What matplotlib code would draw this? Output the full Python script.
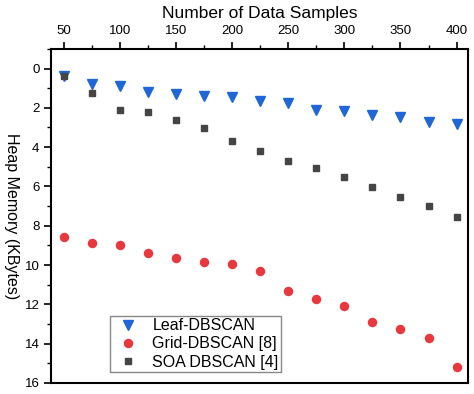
import matplotlib.pyplot as plt
from matplotlib.ticker import MultipleLocator

plt.rcParams["font.family"] = ["Liberation Sans", "DejaVu Sans"]

samples = [50, 75, 100, 125, 150, 175, 200, 225, 250, 275, 300, 325, 350, 375, 400]
leaf_kb = [0.38, 0.81, 0.91, 1.19, 1.32, 1.41, 1.47, 1.66, 1.78, 2.12, 2.15, 2.37, 2.45, 2.73, 2.84]
grid_kb = [8.55, 8.90, 9.00, 9.39, 9.66, 9.85, 9.97, 10.32, 11.34, 11.71, 12.08, 12.91, 13.23, 13.69, 15.2]
soa_kb = [0.39, 1.27, 2.12, 2.20, 2.62, 3.05, 3.69, 4.18, 4.69, 5.08, 5.53, 6.04, 6.52, 6.99, 7.53]

fig = plt.figure(figsize=(4.74, 3.94), dpi=100)
ax = fig.add_axes([0.108, 0.028, 0.879, 0.848])

ax.plot(samples, leaf_kb, "v", color="#1f66d9", ms=6.5, ls="none", label="Leaf-DBSCAN")
ax.plot(samples, grid_kb, "o", color="#e8383d", ms=5.8, ls="none", label="Grid-DBSCAN [8]")
ax.plot(samples, soa_kb, "s", color="#454545", ms=5, ls="none", label="SOA DBSCAN [4]")

ax.set_xlim(39, 410)
ax.set_ylim(16, -1)
ax.xaxis.tick_top()
ax.xaxis.set_label_position("top")
ax.set_xticks(range(50, 401, 50))
ax.set_yticks(range(0, 17, 2))
ax.xaxis.set_minor_locator(MultipleLocator(25))
ax.yaxis.set_minor_locator(MultipleLocator(1))
ax.tick_params(which="major", direction="out", length=5, width=1.2, labelsize=9.5)
ax.tick_params(which="minor", direction="out", length=3, width=1.0)
for side in ax.spines.values():
    side.set_linewidth(1.5)

ax.set_xlabel("Number of Data Samples", fontsize=12.5, labelpad=5)
ax.set_ylabel("Heap Memory (KBytes)", fontsize=11.5, rotation=270, labelpad=15)

leg = ax.legend(loc="lower left", bbox_to_anchor=(0.141, 0.033), borderaxespad=0,
                fontsize=11.5, numpoints=1, fancybox=False, framealpha=1,
                edgecolor="#888888", handlelength=2.0, handletextpad=0.5,
                borderpad=0.15, labelspacing=0.2)
leg.get_frame().set_linewidth(1.0)

plt.savefig("out.png", dpi=100)
plt.close()
